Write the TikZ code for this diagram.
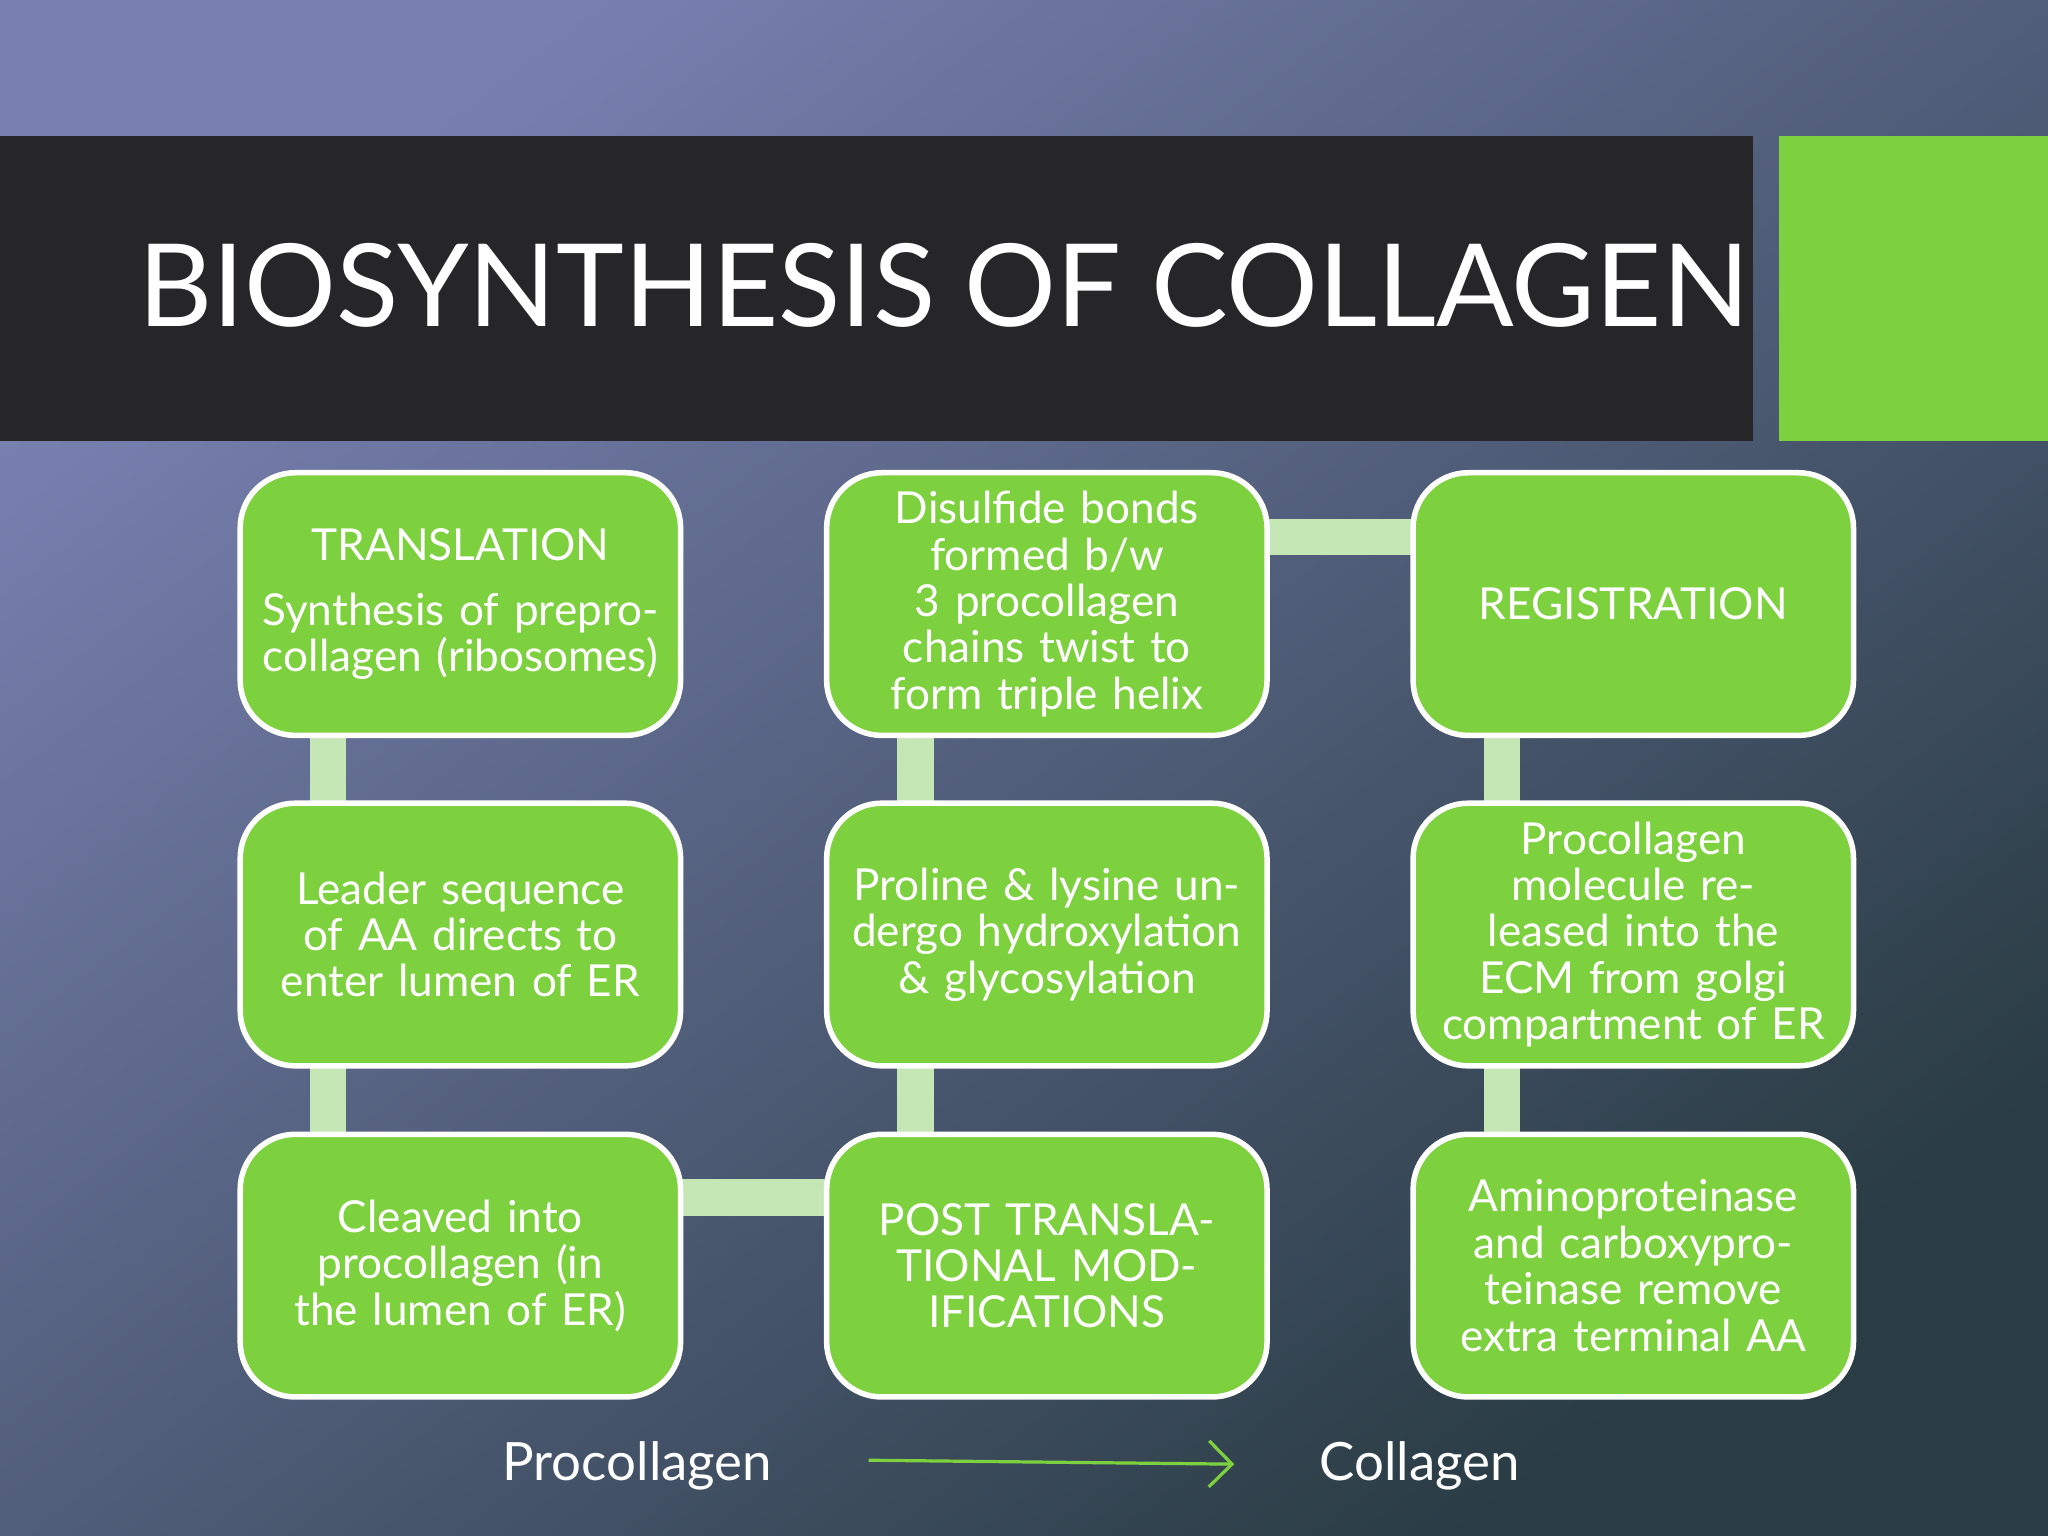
\documentclass[tikz,border=0pt]{standalone}
\usepackage{fontspec}
\setmainfont{Lato}
\usetikzlibrary{arrows.meta}
\definecolor{gr}{HTML}{7ED13E}
\definecolor{lg}{HTML}{C5E6B5}
\definecolor{band}{HTML}{262629}
\definecolor{bgul}{RGB}{120,128,176}
\definecolor{bglr}{RGB}{42,60,68}
\tikzset{
 box/.style={draw=white,line width=1.2pt,fill=gr,rounded corners=12pt,minimum width=3.37cm,minimum height=2.01cm,text width=3.1cm,align=center,text=white,font=\fontsize{9.6pt}{10.1pt}\selectfont,inner sep=0pt},
 link/.style={lg,line width=0.28cm},
}
\begin{document}
\begin{tikzpicture}[x=0.01cm,y=-0.01cm]
\shade[top color=bgul,bottom color=bglr,shading angle=37] (0,0) rectangle (1568,1176);
\useasboundingbox (0,0) rectangle (1568,1176);
\fill[band] (0,104) rectangle (1342,338);
\fill[gr] (1362,104) rectangle (1568,338);
\node[anchor=base west,text=white,font=\fontsize{25pt}{28pt}\selectfont,inner sep=0pt] (title) at (105,250) {BIOSYNTHESIS OF COLLAGEN};
\coordinate (a) at (251,563); \coordinate (b) at (251,615);
\coordinate (c) at (251,816); \coordinate (d) at (251,868);
\coordinate (e) at (701,563); \coordinate (f) at (701,615);
\coordinate (g) at (701,816); \coordinate (h) at (701,868);
\coordinate (i) at (1150,563); \coordinate (j) at (1150,615);
\coordinate (k) at (1150,816); \coordinate (l) at (1150,868);
\coordinate (m) at (521,917); \coordinate (n) at (633,917);
\coordinate (o) at (970,411); \coordinate (p) at (1082,411);
\foreach \s/\t in {a/b,c/d,e/f,g/h,i/j,k/l,m/n,o/p} \draw[link] (\s)--(\t);
\node[box] (b11) at (352.5,462.5) {TRANSLATION\\[4pt]Synthesis of preprocollagen (ribosomes)};
\node[box] (b21) at (352.5,715.5) {Leader sequence of AA directs to enter lumen of ER};
\node[box] (b31) at (352.5,969) {Cleaved into procollagen (in the lumen of ER)};
\node[box] (b12) at (801.5,462.5) {Disulfide bonds formed b/w 3 procollagen chains twist to form triple helix};
\node[box] (b22) at (801.5,715.5) {Proline \& lysine undergo hydroxylation \& glycosylation};
\node[box] (b32) at (801.5,969) {POST TRANSLATIONAL MODIFICATIONS};
\node[box] (b13) at (1250.5,462.5) {REGISTRATION};
\node[box] (b23) at (1250.5,715.5) {Procollagen molecule released into the ECM from golgi compartment of ER};
\node[box] (b33) at (1250.5,969) {Aminoproteinase and carboxyproteinase remove extra terminal AA};
\node[text=white,font=\fontsize{11.5pt}{13pt}\selectfont] (pro) at (488,1122) {Procollagen};
\node[text=white,font=\fontsize{11.5pt}{13pt}\selectfont] (col) at (1087,1122) {Collagen};
\coordinate (s) at (665,1118); \coordinate (t) at (945,1121);
\draw[gr,line width=0.7pt,-{Straight Barb[length=5pt]}] (s)--(t);
\end{tikzpicture}
\end{document}
